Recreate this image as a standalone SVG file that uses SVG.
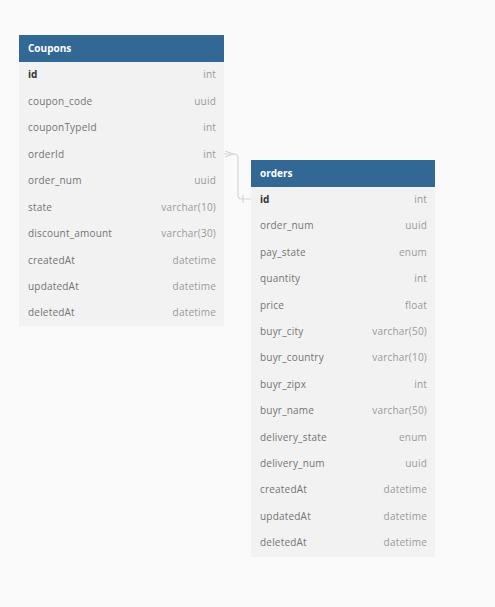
<svg xmlns="http://www.w3.org/2000/svg" width="495" height="607" viewBox="0 0 495 607">
<style>
.bg{fill:#fafafa}
.hdr{fill:#316896}
.body{fill:#f2f2f2}
.title{font-family:"Open Sans","Noto Sans",sans-serif;font-size:10px;font-weight:bold;fill:#ffffff}
.fn{font-family:"Open Sans","Noto Sans",sans-serif;font-size:10px;fill:#747474;letter-spacing:0.2px}
.pk{font-family:"Open Sans","Noto Sans",sans-serif;font-size:10px;font-weight:bold;fill:#333333}
.ft{font-family:"Open Sans","Noto Sans",sans-serif;font-size:10px;fill:#9a9a9a;text-anchor:end;letter-spacing:0.2px}
.conn{fill:none;stroke:#d6d6d6;stroke-width:1.2}
</style>
<rect class="bg" x="0" y="0" width="495" height="607"/>
<g id="connectors">
<path class="conn" d="M224,154 H234 Q238,154 238,158 V195 Q238,199 242,199 H251"/>
<path class="conn" d="M225,151 L233,154 L225,157"/>
<path class="conn" d="M243,195 V203"/>
</g>
<g id="coupons">
<rect class="body" x="19" y="35" width="205" height="291"/>
<rect class="hdr" x="19" y="35" width="205" height="27"/>
<text class="title" x="28" y="51.5">Coupons</text>
<text class="pk" x="28" y="78">id</text><text class="ft" x="216" y="78">int</text>
<text class="fn" x="28" y="104.5">coupon_code</text><text class="ft" x="216" y="104.5">uuid</text>
<text class="fn" x="28" y="131">couponTypeId</text><text class="ft" x="216" y="131">int</text>
<text class="fn" x="28" y="157.5">orderId</text><text class="ft" x="216" y="157.5">int</text>
<text class="fn" x="28" y="184">order_num</text><text class="ft" x="216" y="184">uuid</text>
<text class="fn" x="28" y="210.5">state</text><text class="ft" x="216" y="210.5">varchar(10)</text>
<text class="fn" x="28" y="237">discount_amount</text><text class="ft" x="216" y="237">varchar(30)</text>
<text class="fn" x="28" y="263.5">createdAt</text><text class="ft" x="216" y="263.5">datetime</text>
<text class="fn" x="28" y="290">updatedAt</text><text class="ft" x="216" y="290">datetime</text>
<text class="fn" x="28" y="316">deletedAt</text><text class="ft" x="216" y="316">datetime</text>
</g>
<g id="orders">
<rect class="body" x="251" y="160" width="184" height="397"/>
<rect class="hdr" x="251" y="160" width="184" height="27"/>
<text class="title" x="260" y="176.5">orders</text>
<text class="pk" x="260" y="203">id</text><text class="ft" x="427" y="203">int</text>
<text class="fn" x="260" y="229">order_num</text><text class="ft" x="427" y="229">uuid</text>
<text class="fn" x="260" y="255.5">pay_state</text><text class="ft" x="427" y="255.5">enum</text>
<text class="fn" x="260" y="282">quantity</text><text class="ft" x="427" y="282">int</text>
<text class="fn" x="260" y="308.5">price</text><text class="ft" x="427" y="308.5">float</text>
<text class="fn" x="260" y="335">buyr_city</text><text class="ft" x="427" y="335">varchar(50)</text>
<text class="fn" x="260" y="361">buyr_country</text><text class="ft" x="427" y="361">varchar(10)</text>
<text class="fn" x="260" y="387.5">buyr_zipx</text><text class="ft" x="427" y="387.5">int</text>
<text class="fn" x="260" y="414">buyr_name</text><text class="ft" x="427" y="414">varchar(50)</text>
<text class="fn" x="260" y="440.5">delivery_state</text><text class="ft" x="427" y="440.5">enum</text>
<text class="fn" x="260" y="467">delivery_num</text><text class="ft" x="427" y="467">uuid</text>
<text class="fn" x="260" y="493">createdAt</text><text class="ft" x="427" y="493">datetime</text>
<text class="fn" x="260" y="519.5">updatedAt</text><text class="ft" x="427" y="519.5">datetime</text>
<text class="fn" x="260" y="546">deletedAt</text><text class="ft" x="427" y="546">datetime</text>
</g>
</svg>
